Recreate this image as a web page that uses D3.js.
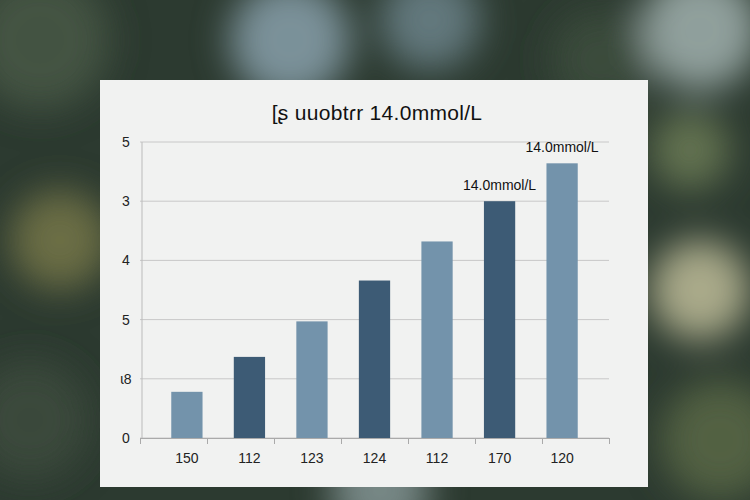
<!DOCTYPE html>
<html lang="en">
<head>
<meta charset="utf-8">
<title>Chart</title>
<script src="https://cdnjs.cloudflare.com/ajax/libs/d3/7.8.5/d3.min.js"></script>
</head>
<body style="margin:0;">
<svg id="chart" width="750" height="500"></svg>
<script>
// data
var categories = ["150", "112", "123", "124", "112", "170", "120"];
var values = [0.78, 1.37, 1.97, 2.66, 3.32, 4.0, 4.64];
var shades = ["light", "dark", "light", "dark", "light", "dark", "light"];
var yTicks = [0, 1, 2, 3, 4, 5];
var yTickLabels = ["0", "ɩ8", "5", "4", "3", "5"];
var barLabels = [null, null, null, null, null, "14.0mmol/L", "14.0mmol/L"];
var title = "[ʂ uuobtɾr 14.0mmol/L";

var svg = d3.select("#chart");
var defs = svg.append("defs");
defs.append("filter").attr("id", "blur").append("feGaussianBlur").attr("stdDeviation", 18);

// blurry bokeh background
svg.append("rect").attr("width", 750).attr("height", 500).attr("fill", "#2c3a30");
var bokeh = svg.append("g").attr("filter", "url(#blur)");
[[40, 40, 70, "#4a5a48"], [290, 40, 60, "#8fa7b4"], [430, 20, 50, "#6f8890"], [700, 30, 60, "#a9b9b8"],
 [60, 240, 50, "#7a7a4a"], [700, 290, 50, "#c9c6a0"], [690, 150, 40, "#6f7f58"], [30, 420, 60, "#3f4d40"],
 [720, 440, 60, "#5d6a48"], [380, 490, 50, "#8a9a9a"], [600, 60, 50, "#3d5040"]].forEach(function (c) {
  bokeh.append("circle").attr("cx", c[0]).attr("cy", c[1]).attr("r", c[2]).attr("fill", c[3]).attr("opacity", 0.8);
});

// white panel
svg.append("rect").attr("x", 100).attr("y", 80).attr("width", 548).attr("height", 407)
  .attr("fill", "#f1f2f1");

svg.append("text").attr("x", 377).attr("y", 120).attr("text-anchor", "middle")
  .attr("font-family", "Liberation Sans, Arial").attr("font-size", 21).attr("font-weight", 500)
  .attr("fill", "#111").style("letter-spacing", "0.3px")
  .text(title);

var x = d3.scaleBand().domain(d3.range(categories.length)).range([140, 609]).padding(0.5);
var y = d3.scaleLinear().domain([0, 5]).range([438, 142]);

// gridlines
svg.append("g").selectAll("line").data(yTicks).enter().append("line")
  .attr("x1", 140).attr("x2", 609).attr("y1", function (d) { return y(d); }).attr("y2", function (d) { return y(d); })
  .attr("stroke", "#c8c8c8");
svg.append("line").attr("x1", 142).attr("x2", 142).attr("y1", 142).attr("y2", 438).attr("stroke", "#bbb");

svg.append("g").selectAll("text").data(yTicks).enter().append("text")
  .attr("x", 126).attr("y", function (d) { return y(d) + 5; }).attr("text-anchor", "middle")
  .attr("font-family", "Liberation Sans, Arial").attr("font-size", 14).attr("fill", "#222")
  .text(function (d, i) { return yTickLabels[i]; });

// bars
svg.append("g").selectAll("rect").data(values).enter().append("rect")
  .attr("x", function (d, i) { return x(i); }).attr("width", x.bandwidth())
  .attr("y", function (d) { return y(d); }).attr("height", function (d) { return y(0) - y(d); })
  .attr("fill", function (d, i) { return shades[i] == "dark" ? "#3d5b75" : "#7393ab"; });

svg.append("g").selectAll("text").data(values).enter().append("text")
  .attr("x", function (d, i) { return x(i) + x.bandwidth() / 2; })
  .attr("y", function (d) { return y(d) - 11; }).attr("text-anchor", "middle")
  .attr("font-family", "Liberation Sans, Arial").attr("font-size", 14).attr("fill", "#111")
  .text(function (d, i) { return barLabels[i] || ""; });

// x axis
var xAxis = d3.axisBottom(d3.scaleLinear().domain([0, 7]).range([140, 609]))
  .ticks(7).tickSize(6).tickFormat("");
var gx = svg.append("g").attr("transform", "translate(0,438)").call(xAxis);
gx.selectAll("path, line").attr("stroke", "#aaa");
svg.append("g").selectAll("text").data(categories).enter().append("text")
  .attr("x", function (d, i) { return x(i) + x.bandwidth() / 2; }).attr("y", 463)
  .attr("text-anchor", "middle").attr("font-family", "Liberation Sans, Arial").attr("font-size", 14)
  .attr("fill", "#222").text(function (d) { return d; });
</script>
</body>
</html>
